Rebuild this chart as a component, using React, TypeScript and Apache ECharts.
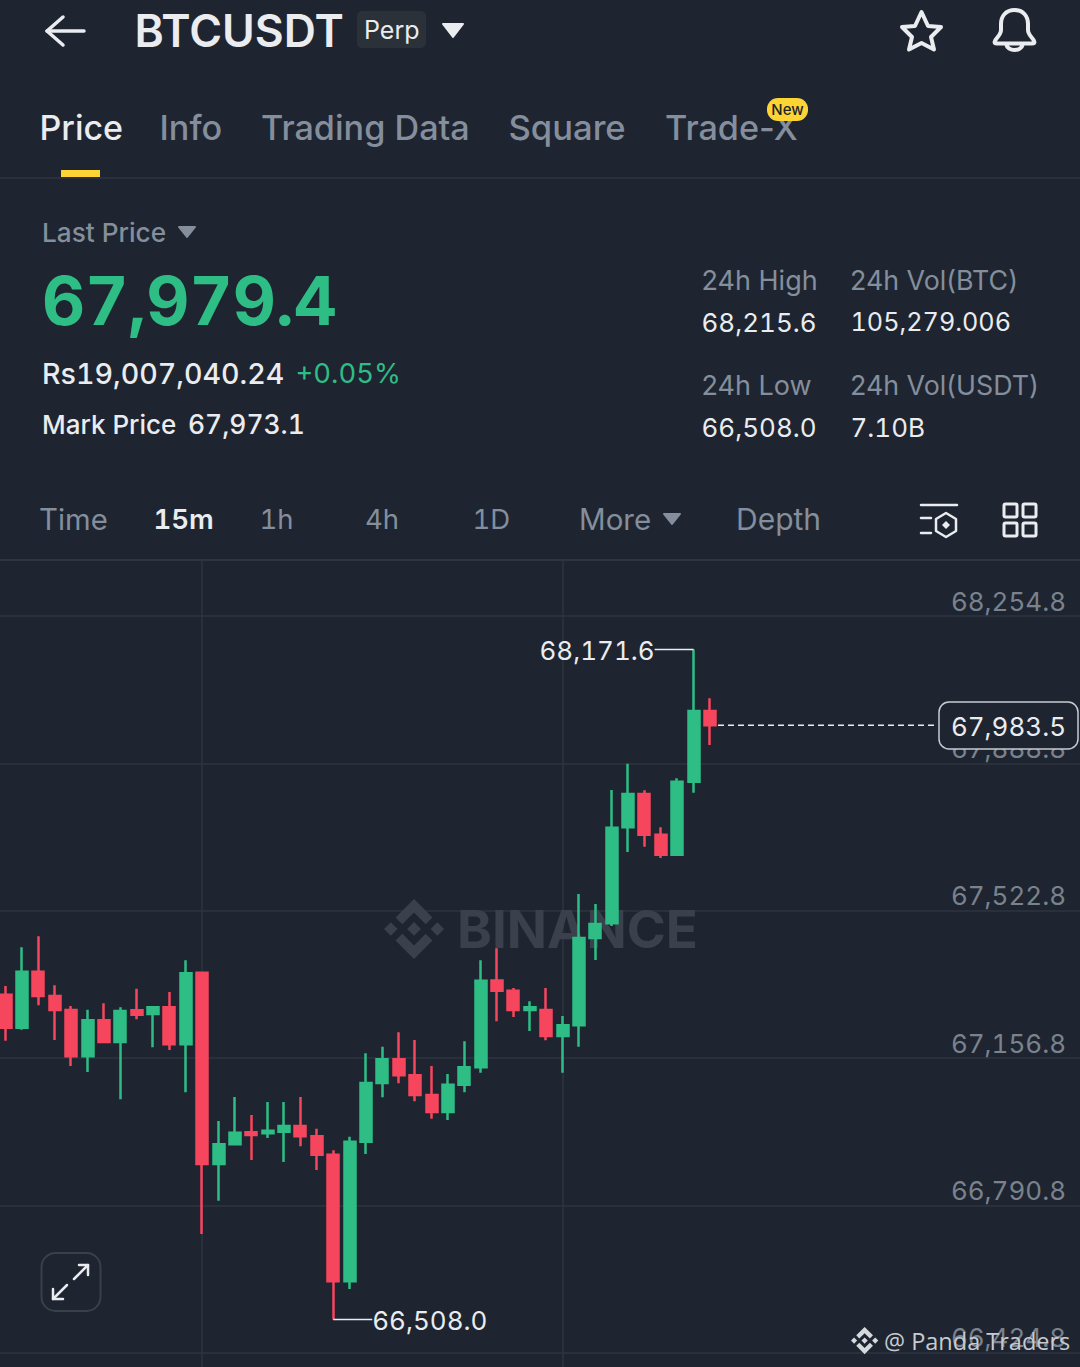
import React, { useEffect, useRef } from "react";
import * as echarts from "echarts";

const indexes = Array.from({ length: 44 }, (_, i) => i);
const opens = [67314.5,67232.5,67371.6,67311.3,67276.5,67161.5,67250.9,67197.0,67275.8,67266.6,67283.2,67191.3,67369.1,66894.1,66943.0,66972.8,66970.3,66974.3,66988.5,66962.9,66917.2,66602.8,66949.5,67095.2,67154.1,67114.4,67065.4,67023.2,67091.0,67134.2,67350.0,67324.4,67276.5,67276.5,67211.9,67238.5,67455.3,67491.8,67730.1,67812.8,67711.8,67662.1,67843.4,68018.9];
const closes = [67232.5,67371.6,67311.3,67276.5,67161.5,67250.9,67197.0,67274.0,67264.8,67283.2,67191.3,67367.6,66894.1,66943.0,66971.8,66966.1,66976.8,66988.5,66962.9,66917.2,66602.8,66949.5,67095.2,67154.1,67114.4,67065.4,67023.2,67091.0,67134.2,67349.2,67324.4,67276.5,67283.2,67211.9,67238.5,67455.3,67490.0,67729.1,67812.8,67711.8,67662.1,67843.4,68018.9,67983.5];
const lows = [67200.3,67227.6,67288.2,67202.0,67137.4,67122.6,67194.6,67054.8,67253.4,67183.9,67177.2,67072.1,66720.3,66803.0,66943.0,66904.0,66958.7,66899.1,66938.1,66879.2,66508.0,66583.7,66918.9,67059.7,67094.5,67049.8,67006.6,67003.4,67072.1,67120.8,67248.4,67259.1,67224.4,67201.3,67120.8,67185.4,67400.6,67485.1,67668.8,67682.0,67653.9,67659.6,67816.0,67934.5];
const highs = [67336.1,67432.2,67459.5,67337.8,67286.4,67277.2,67293.1,67283.2,67329.4,67283.2,67321.2,67399.9,67369.1,67000.9,67060.5,67015.8,67048.1,67048.1,67060.5,66981.8,66928.1,66961.9,67169.0,67185.4,67221.1,67202.0,67137.4,67117.6,67198.8,67399.9,67429.7,67331.1,67298.1,67331.1,67261.6,67564.5,67539.7,67822.8,67888.1,67822.0,67730.1,67851.8,68171.6,68050.4];
const priceTicks = [68254.8,67888.8,67522.8,67156.8,66790.8,66424.8];
const guideIndexes = [12, 34];
const lastPrice = 67983.5;

const BG = "#1e2530";
const GRID = "#2e3540";
const GREEN = "#2ebd85";
const RED = "#f6465d";
const GREY = "#848e9c";
const WHITE = "#eaecef";
const SANS = "Inter, sans-serif";
const NUM = "Inter, Roboto, sans-serif"; // tabular figures are switched on for this stack by the CSS below

const fmt = (v: number) => v.toLocaleString("en-US", { minimumFractionDigits: 1, maximumFractionDigits: 1 });

echarts.graphic.registerShape("binLogo", echarts.graphic.extendPath(
  "M38.73 53.2l24.59-24.58 24.6 24.6 14.3-14.31L63.32 0 24.42 38.9zM0 63.31l14.3-14.31 14.31 14.31-14.31 14.3zM38.73 73.41l24.59 24.59 24.6-24.6 14.31 14.29-38.9 38.91-38.91-38.88-.02-.02zM98.28 63.31l14.3-14.3 14.31 14.3-14.31 14.3zM77.83 63.3l-14.51-14.52L52.59 59.51l-1.24 1.23-2.54 2.54 14.51 14.5 14.5-14.5z", {}) as any);
echarts.graphic.registerShape("bellIcon", echarts.graphic.extendPath(
  "M1014.5 10C1006 10 1001 16 1001 24L1001 30C1001 35 996 38 995 41C994 43 995 43.5 997 43.5L1032 43.5C1034 43.5 1035 43 1034 41C1033 38 1028 35 1028 30L1028 24C1028 16 1023 10 1014.5 10ZM1006 44C1008 52 1021 52 1023 44", {}) as any);

const t = (text: string, x: number, y: number, size: number, fill: string, weight: number | string = 400, align = "left", family = SANS, z = 20) => ({
  type: "text", z, x, y, silent: true,
  style: { text, fontSize: size, fontWeight: weight, fontFamily: family, fill, align, verticalAlign: "middle" },
});
const tri = (x0: number, x1: number, y0: number, y1: number, fill: string) => ({
  type: "polygon", z: 20, silent: true,
  shape: { points: [[x0, y0], [x1, y0], [(x0 + x1) / 2, y1]] },
  style: { fill, stroke: fill, lineWidth: 2, lineJoin: "round" },
});
const pl = (points: number[][], stroke: string, lineWidth: number, z = 20) => ({
  type: "polyline", z, silent: true, shape: { points },
  style: { stroke, lineWidth, fill: "none", lineCap: "round", lineJoin: "round" },
});
const box = (x: number, y: number, width: number, height: number, r: number, style: any, z = 20) => ({
  type: "rect", z, silent: true, shape: { x, y, width, height, r }, style,
});

function chrome(): any[] {
  const out: any[] = [];
  out.push(pl([[84, 31], [47, 31]], WHITE, 3.5), pl([[63, 17], [47, 31], [63, 45]], WHITE, 3.5));
  out.push(t("BTCUSDT", 134.5, 31, 44.5, WHITE, 600));
  out.push(box(357, 11, 69, 37, 5, { fill: "#2b3139" }));
  out.push(t("Perp", 364, 30, 25, WHITE, 400));
  out.push(tri(443, 463, 24, 37, WHITE));
  out.push({
    type: "polygon", z: 20, silent: true,
    shape: { points: [[921.5, 12], [928, 26], [941, 27], [931, 37], [934, 49.5], [921.5, 43], [909, 49.5], [912, 37], [902, 27], [915, 26]] },
    style: { fill: "none", stroke: WHITE, lineWidth: 4, lineJoin: "round" },
  });
  out.push({ type: "bellIcon", z: 20, silent: true, x: 0, y: 0, style: { fill: "none", stroke: WHITE, lineWidth: 4, lineJoin: "round", lineCap: "round" } });
  out.push(t("Price", 39.5, 127, 34, WHITE, 500));
  out.push(t("Info", 159.5, 127, 34.2, GREY, 500));
  out.push(t("Trading Data", 261, 127, 34.2, GREY, 500));
  out.push(t("Square", 508.5, 127, 34.6, GREY, 500));
  out.push(t("Trade-X", 665, 127, 34.2, GREY, 500));
  out.push(box(767, 98, 41, 23, 11, { fill: "#fcd535" }));
  out.push(t("New", 787.5, 109, 15, "#1e2329", 500, "center"));
  out.push(box(61, 170, 39, 7, 0, { fill: "#fcd535" }));
  out.push({ type: "line", z: 20, silent: true, shape: { x1: 0, y1: 178, x2: 1080, y2: 178 }, style: { stroke: GRID, lineWidth: 1.5 } });
  out.push(t("Last Price", 42, 232, 26.2, GREY, 500));
  out.push(tri(179, 195, 227, 237, GREY));
  out.push(t("67,979.4", 42, 300, 66.8, GREEN, 700, "left", NUM));
  out.push(t("Rs19,007,040.24", 42, 373, 28.6, WHITE, 500, "left", NUM));
  out.push(t("+0.05%", 295.5, 373, 27.4, GREEN, 400, "left", NUM));
  out.push(t("Mark Price", 42, 424, 26, WHITE, 500));
  out.push(t("67,973.1", 188, 424, 26.4, WHITE, 500, "left", NUM));
  out.push(t("24h High", 701.5, 280, 27, GREY));
  out.push(t("68,215.6", 701.5, 322, 26, WHITE, 400, "left", NUM));
  out.push(t("24h Vol(BTC)", 850, 280, 26.8, GREY));
  out.push(t("105,279.006", 850.5, 322, 25.2, WHITE, 400, "left", NUM));
  out.push(t("24h Low", 701.5, 385, 27, GREY));
  out.push(t("66,508.0", 701.5, 427, 26, WHITE, 400, "left", NUM));
  out.push(t("24h Vol(USDT)", 850, 385, 26.8, GREY));
  out.push(t("7.10B", 850.5, 427, 26, WHITE, 400, "left", NUM));
  out.push(t("Time", 39, 519, 29.3, GREY));
  out.push(t("15m", 153.5, 519, 27.5, WHITE, 600, "left", NUM));
  out.push(t("1h", 259.5, 519, 27.5, GREY, 400, "left", NUM));
  out.push(t("4h", 365, 519, 27.5, GREY, 400, "left", NUM));
  out.push(t("1D", 472.5, 519, 27.5, GREY, 400, "left", NUM));
  out.push(t("More", 579, 519, 29.5, GREY));
  out.push(tri(664, 680, 514, 524, GREY));
  out.push(t("Depth", 736, 519, 30, GREY));
  out.push(pl([[921, 505], [957, 505]], WHITE, 2.5), pl([[921, 518], [931, 518]], WHITE, 2.5), pl([[921, 533], [931, 533]], WHITE, 2.5));
  out.push({
    type: "polygon", z: 20, silent: true,
    shape: { points: [[946, 513], [956, 519], [956, 531], [946, 537], [936, 531], [936, 519]] },
    style: { fill: "none", stroke: WHITE, lineWidth: 2.5, lineJoin: "round" },
  });
  out.push({ type: "polygon", z: 20, silent: true, shape: { points: [[946, 521], [950, 525], [946, 529], [942, 525]] }, style: { fill: WHITE } });
  const sq = { fill: "none", stroke: WHITE, lineWidth: 3 };
  out.push(box(1004, 504, 13, 13, 1.5, sq), box(1023, 504, 13, 13, 1.5, sq), box(1004, 523, 13, 13, 1.5, sq), box(1023, 523, 13, 13, 1.5, sq));
  out.push({ type: "line", z: 20, silent: true, shape: { x1: 0, y1: 560, x2: 1080, y2: 560 }, style: { stroke: GRID, lineWidth: 2 } });
  out.push({ type: "binLogo", z: 1, silent: true, x: 384, y: 899, scaleX: 0.474, scaleY: 0.474, style: { fill: "#3a414c" } });
  out.push(t("BINANCE", 457, 929, 52.8, "#3a414c", 700, "left", SANS, 1));
  out.push(box(41.5, 1253, 59, 58, 14, { fill: "none", stroke: "#3a404b", lineWidth: 2 }));
  out.push(pl([[74, 1279], [88, 1265]], WHITE, 2.5), pl([[79, 1265], [88, 1265], [88, 1275]], WHITE, 2.5));
  out.push(pl([[67, 1285], [53, 1299]], WHITE, 2.5), pl([[53, 1289], [53, 1299], [63, 1299]], WHITE, 2.5));
  out.push({ type: "binLogo", z: 25, silent: true, x: 851, y: 1327, scaleX: 0.215, scaleY: 0.215, style: { fill: "#d5d8dc" } });
  out.push(t("@ Panda Traders", 884, 1341, 23.5, "#c6cbd1", 400, "left", "'Open Sans', sans-serif", 25));
  return out;
}

export default function App() {
  const ref = useRef<HTMLDivElement>(null);
  useEffect(() => {
    document.body.style.margin = "0";
    document.body.style.background = BG;
    const chart = echarts.init(ref.current!, undefined, { renderer: "svg" });
    const candles = indexes.map((x, i) => [x, opens[i], closes[i], lows[i], highs[i]]);
    chart.setOption({
      animation: false,
      backgroundColor: BG,
      grid: { left: 0, top: 560, width: 1080, height: 807, containLabel: false },
      xAxis: {
        type: "value",
        min: -0.346,
        max: 65.59,
        axisLine: { show: false },
        axisTick: { show: false, customValues: guideIndexes },
        axisLabel: { show: false, customValues: guideIndexes },
        splitLine: { show: true, lineStyle: { color: GRID, width: 1.5 } },
      },
      yAxis: {
        type: "value",
        position: "right",
        min: 66390.0,
        max: 68393.9,
        axisLine: { show: false },
        axisTick: { show: false, customValues: priceTicks },
        splitLine: { show: true, lineStyle: { color: GRID, width: 1.5 } },
        axisLabel: {
          inside: true,
          margin: 14,
          customValues: priceTicks,
          formatter: (v: number) => fmt(v),
          color: "#7a828e",
          fontFamily: NUM,
          fontSize: 26,
          verticalAlign: "bottom",
          padding: [0, 0, 2, 0],
        },
      },
      series: [{
        type: "candlestick",
        data: candles,
        encode: { x: 0, y: [1, 2, 3, 4] },
        barWidth: 11.5,
        z: 5,
        itemStyle: { color: GREEN, color0: RED, borderColor: GREEN, borderColor0: RED, borderWidth: 2.5 },
      }],
    });
    const hiVal = Math.max(...highs);
    const loVal = Math.min(...lows);
    const hi = chart.convertToPixel({ seriesIndex: 0 }, [highs.indexOf(hiVal), hiVal]) as number[];
    const lo = chart.convertToPixel({ seriesIndex: 0 }, [lows.indexOf(loVal), loVal]) as number[];
    const last = chart.convertToPixel({ seriesIndex: 0 }, [closes.length - 1, lastPrice]) as number[];
    const elements: any[] = chrome();
    elements.push({ type: "polyline", z: 20, silent: true, shape: { points: [[hi[0], hi[1]], [hi[0] - 39, hi[1]]] }, style: { stroke: WHITE, lineWidth: 1.5, fill: "none" } });
    elements.push(t(fmt(hiVal), hi[0] - 39, hi[1] + 1, 26, WHITE, 400, "right", NUM));
    elements.push({ type: "polyline", z: 20, silent: true, shape: { points: [[lo[0], lo[1]], [lo[0] + 39, lo[1]]] }, style: { stroke: WHITE, lineWidth: 1.5, fill: "none" } });
    elements.push(t(fmt(loVal), lo[0] + 39, lo[1] + 1, 26, WHITE, 400, "left", NUM));
    elements.push({ type: "line", z: 20, silent: true, shape: { x1: last[0] + 8, y1: last[1], x2: 938, y2: last[1] }, style: { stroke: WHITE, lineWidth: 1.5, lineDash: [6, 4] } });
    elements.push(box(939, 702, 139, 47, 10, { fill: BG, stroke: "#c8ccd2", lineWidth: 1.5 }, 21));
    elements.push(t(fmt(lastPrice), 1066, 726, 26, WHITE, 400, "right", NUM, 22));
    chart.setOption({ graphic: { elements } });
    return () => chart.dispose();
  }, []);
  return (
    <>
      <style>{`svg text[style*="Roboto"] { font-feature-settings: "tnum" 1; font-variant-numeric: tabular-nums; }`}</style>
      <div ref={ref} style={{ width: 1080, height: 1367, background: BG }} />
    </>
  );
}
